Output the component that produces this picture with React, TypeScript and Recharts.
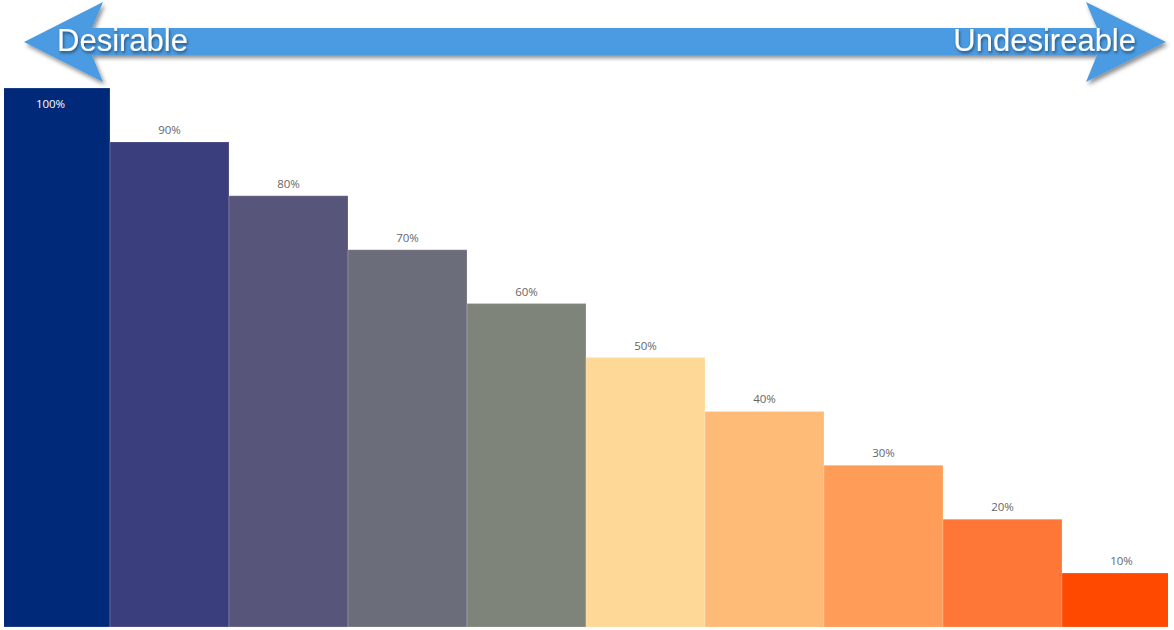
import React from 'react';
import { BarChart, Bar, XAxis, YAxis, Cell, LabelList } from 'recharts';

const ranks = ['1', '2', '3', '4', '5', '6', '7', '8', '9', '10'];
const scores = [100, 90, 80, 70, 60, 50, 40, 30, 20, 10];
const colors = [
  '#00297A', '#3B3E7C', '#57557A', '#6C6D7A', '#7F847A',
  '#FDD896', '#FDBB77', '#FE9C58', '#FE7736', '#FF4800',
];
const leftLabel = 'Desirable';
const rightLabel = 'Undesireable';

const data = ranks.map((rank, i) => ({ rank, score: scores[i] }));

const renderLabel = (props: any) => {
  const { x, y, width, value } = props;
  const cx = x + width / 2;
  const inside = value >= 100;
  return (
    <text
      x={cx}
      y={inside ? y + 20 : y - 8}
      textAnchor="middle"
      fill={inside ? '#ffffff' : '#666666'}
      fontSize={11.5}
      fontFamily="'Open Sans', sans-serif"
    >
      {`${value}%`}
    </text>
  );
};

const Arrow: React.FC = () => (
  <svg width={1174} height={95} style={{ position: 'absolute', left: 0, top: 0 }}>
    <defs>
      <filter id="arrowShadow" x="-5%" y="-30%" width="110%" height="170%">
        <feDropShadow dx="2" dy="3" stdDeviation="2" floodColor="#000" floodOpacity="0.45" />
      </filter>
      <filter id="textShadow" x="-10%" y="-30%" width="120%" height="170%">
        <feDropShadow dx="1" dy="2" stdDeviation="1.5" floodColor="#000" floodOpacity="0.5" />
      </filter>
    </defs>
    <path
      d="M24,42 L103,2 L92,28 L1097,28 L1086,2 L1166,42 L1086,82 L1097,55 L92,55 L103,82 Z"
      fill="#4C9BE2"
      filter="url(#arrowShadow)"
    />
    <g filter="url(#textShadow)" fill="#ffffff" fontSize={31} fontFamily="'Liberation Sans', Arial, sans-serif">
      <text x={57} y={51}>{leftLabel}</text>
      <text x={1136} y={51} textAnchor="end">{rightLabel}</text>
    </g>
  </svg>
);

const App: React.FC = () => {
  return (
    <div style={{ position: 'absolute', left: 0, top: 0, width: 1174, height: 630, overflow: 'hidden', background: '#fff' }}>
      <div style={{ position: 'absolute', left: 4, top: 0, width: 1164, height: 630, overflow: 'hidden' }}>
        <div style={{ position: 'absolute', left: -13, top: 0 }}>
          <BarChart
            width={1190}
            height={630}
            data={data}
            margin={{ top: 88, right: 0, bottom: 3, left: 0 }}
            barCategoryGap={0}
          >
            <XAxis dataKey="rank" hide />
            <YAxis hide domain={[0, 100]} />
            <Bar dataKey="score" isAnimationActive={false} stroke="rgba(255,255,255,0.2)" strokeWidth={1}>
              {data.map((d, i) => (
                <Cell key={d.rank} fill={colors[i]} />
              ))}
              <LabelList dataKey="score" content={renderLabel} />
            </Bar>
          </BarChart>
        </div>
      </div>
      <Arrow />
    </div>
  );
};

export default App;
